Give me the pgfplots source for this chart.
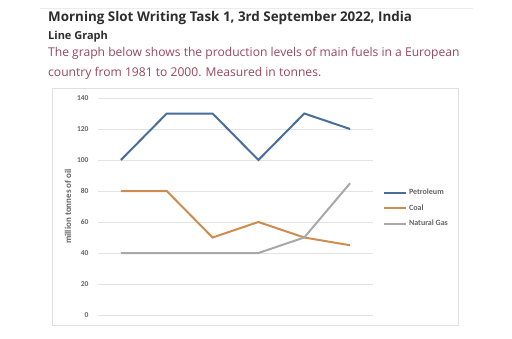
\documentclass[border=0pt]{standalone}
\usepackage{pgfplots}
\pgfplotsset{compat=1.18}
\usepackage{fontspec}
\setmainfont{Open Sans}
\newfontfamily\chartfont{Carlito}
\definecolor{petro}{RGB}{72,110,155}
\definecolor{coal}{RGB}{208,140,78}
\definecolor{gas}{RGB}{168,168,168}
\definecolor{titlec}{RGB}{45,45,45}
\definecolor{subc}{RGB}{150,72,92}
\definecolor{tickc}{RGB}{100,100,100}
\begin{document}
\begin{tikzpicture}[x=1pt,y=1pt]
\path[use as bounding box,fill=white] (0,0) rectangle (512,338);
\draw[gray!15,line width=0.6pt] (40,330) -- (473,330);
\draw[gray!25,line width=0.6pt] (52,13) rectangle (458,250);
\node[anchor=base west,inner sep=0,text=titlec,font=\fontsize{13.4}{15}\selectfont\bfseries] at (48,316) {Morning Slot Writing Task 1, 3rd September 2022, India};
\node[anchor=base west,inner sep=0,text=titlec,font=\fontsize{11}{12}\selectfont\bfseries] at (48,298) {Line Graph};
\node[anchor=base west,inner sep=0,text=subc,font=\fontsize{12.1}{13}\selectfont] at (48,281) {The graph below shows the production levels of main fuels in a European};
\node[anchor=base west,inner sep=0,text=subc,font=\fontsize{12.1}{13}\selectfont] at (48,261) {country from 1981 to 2000. Measured in tonnes.};
\begin{axis}[
  at={(98pt,23pt)}, anchor=south west, scale only axis,
  width=275pt, height=217pt,
  xmin=-0.5, xmax=5.5, ymin=0, ymax=140,
  ytick={0,20,...,140}, xtick=\empty,
  axis line style={draw=none},
  major tick length=0pt,
  ymajorgrids, grid style={gray!22,line width=0.5pt},
  /pgf/number format/assume math mode=true,
  yticklabel style={font=\chartfont\fontsize{7.5}{8}\selectfont\bfseries, text=tickc, xshift=-6pt},
  ylabel={million tonnes of oil},
  ylabel style={font=\chartfont\fontsize{9}{10}\selectfont\bfseries, text=tickc, yshift=-1pt},
  legend style={at={(1.025,0.6)}, anchor=north west, draw=none, fill=none,
    font=\chartfont\fontsize{8}{9}\selectfont\bfseries, text=tickc, row sep=4.5pt},
  legend cell align=left,
  legend image code/.code={\draw[#1,line width=2pt] (0pt,0pt) -- (22pt,0pt);},
]
\addplot[petro, line width=2pt] coordinates {(0,100) (1,130) (2,130) (3,100) (4,130) (5,120)};
\addlegendentry{Petroleum}
\addplot[coal, line width=2pt] coordinates {(0,80) (1,80) (2,50) (3,60) (4,50) (5,45)};
\addlegendentry{Coal}
\addplot[gas, line width=2pt] coordinates {(0,40) (1,40) (2,40) (3,40) (4,50) (5,85)};
\addlegendentry{Natural Gas}
\end{axis}
\end{tikzpicture}
\end{document}
